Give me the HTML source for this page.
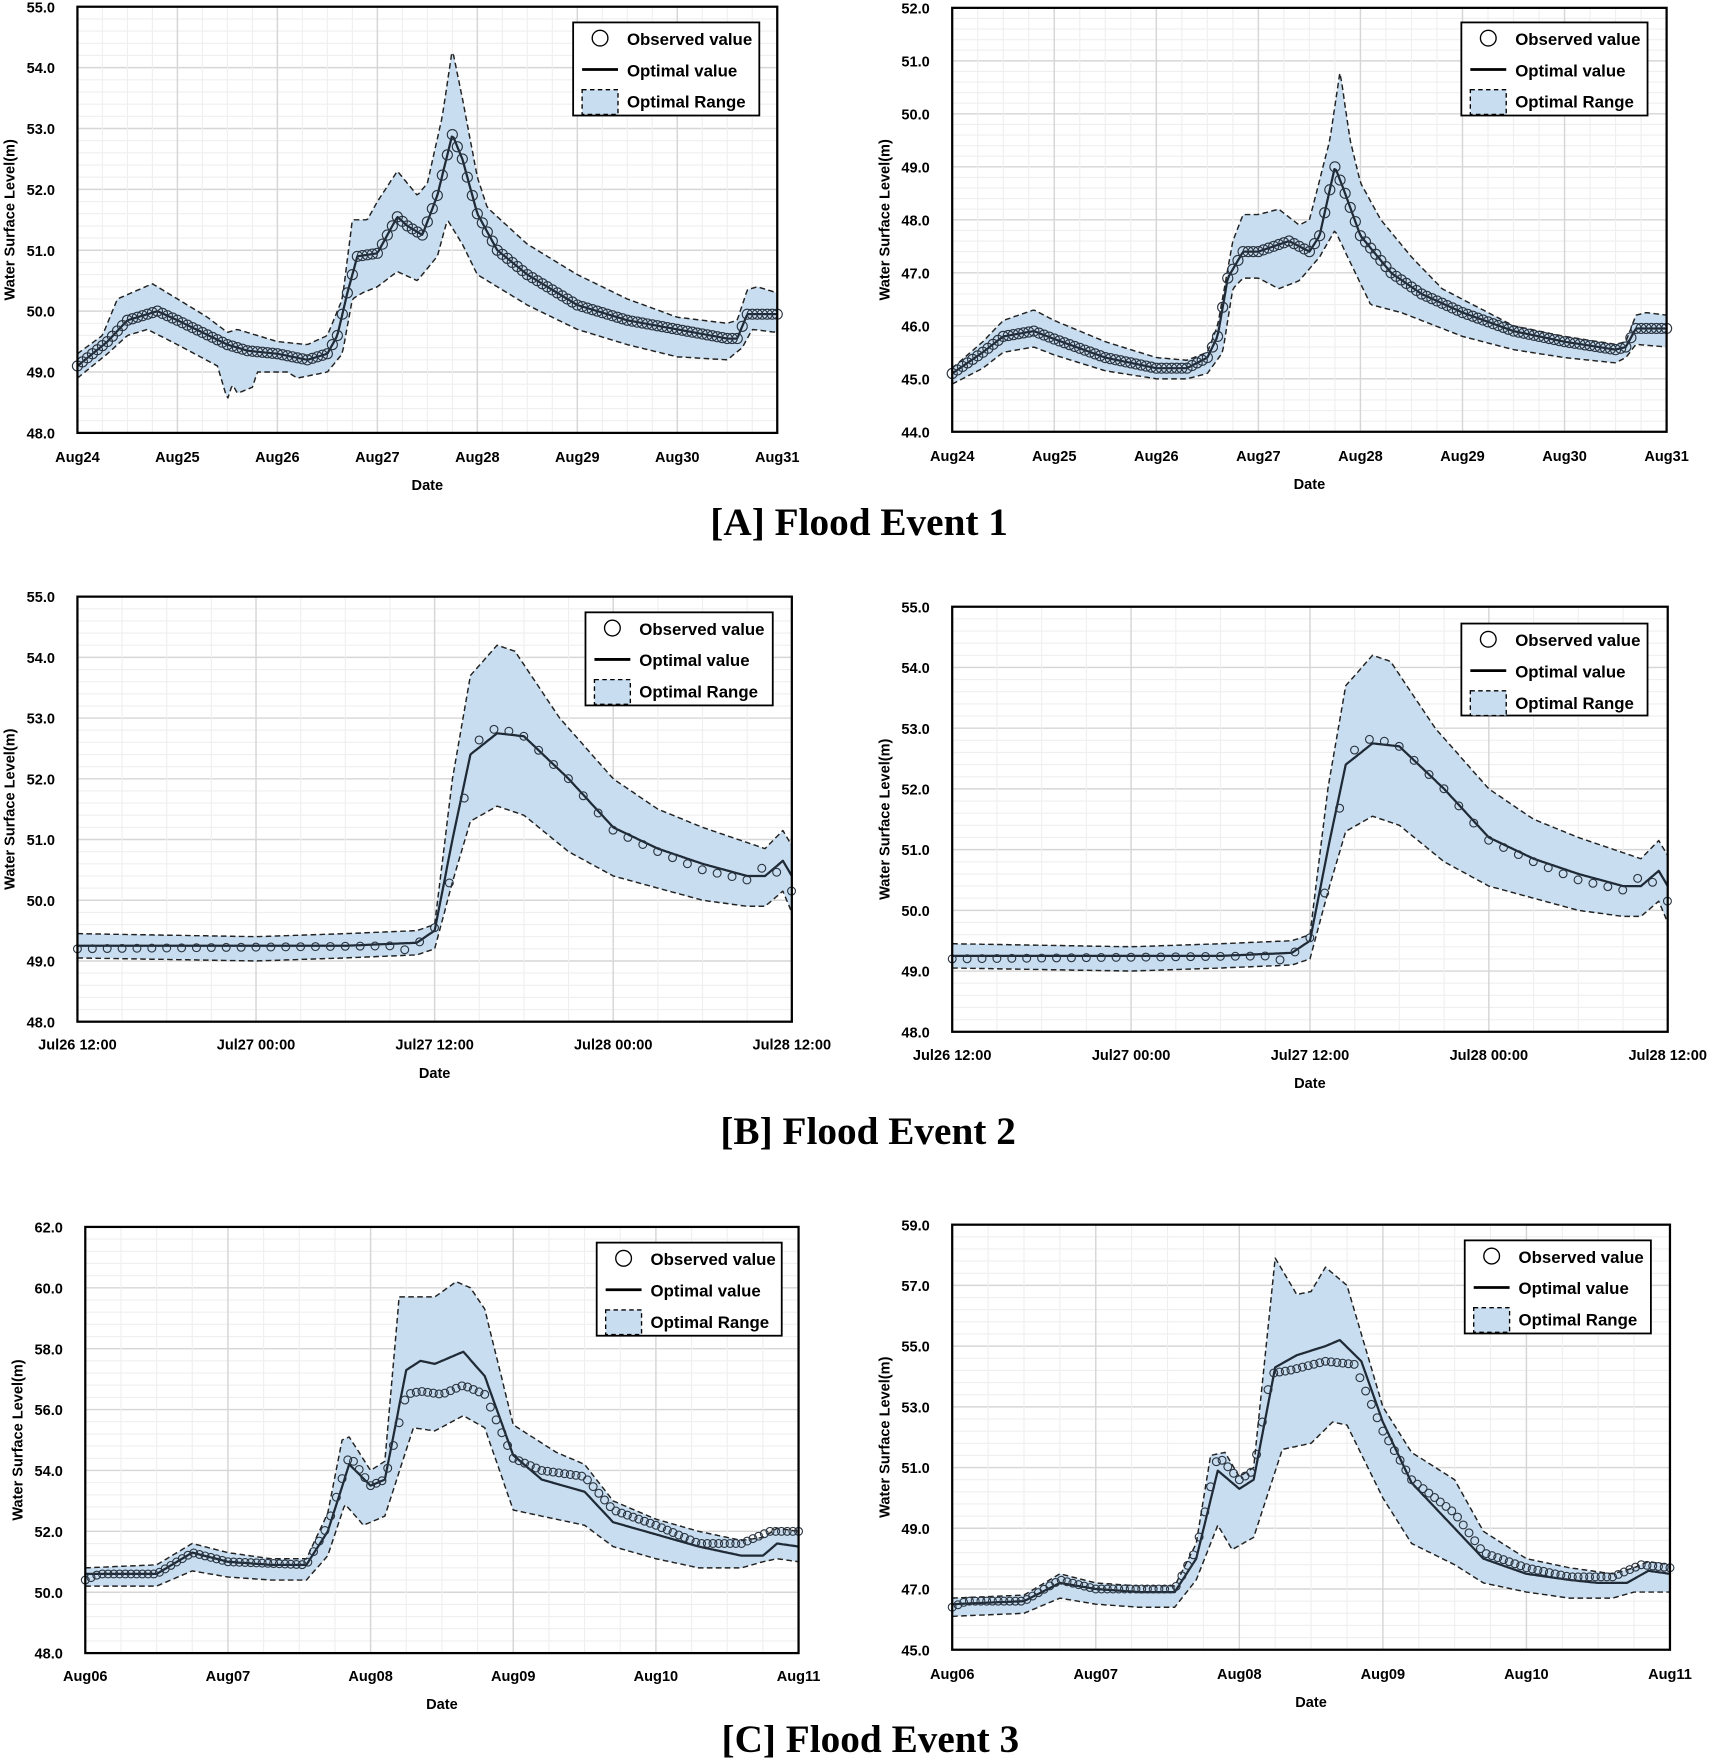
<!DOCTYPE html>
<html><head><meta charset="utf-8"><style>
html,body{margin:0;padding:0;background:#fff}
svg{display:block}
text{font-family:"Liberation Sans","Noto Sans CJK KR",sans-serif}
</style></head><body>
<svg id="s" width="1716" height="1763" viewBox="0 0 1530 1572" xmlns="http://www.w3.org/2000/svg">
<rect width="1530" height="1572" fill="#fff"/>
<text x="766" y="477" text-anchor="middle" style="font-family:'Liberation Serif',serif;font-weight:bold;font-size:35px">[A] Flood Event 1</text>
<text x="774" y="1020" text-anchor="middle" style="font-family:'Liberation Serif',serif;font-weight:bold;font-size:35px">[B] Flood Event 2</text>
<text x="776" y="1562" text-anchor="middle" style="font-family:'Liberation Serif',serif;font-weight:bold;font-size:35px">[C] Flood Event 3</text>
</svg>
<script>
const S=document.getElementById('s');const NS='http://www.w3.org/2000/svg';
function el(t,a,txt){const e=document.createElementNS(NS,t);for(const k in a)e.setAttribute(k,a[k]);if(txt!==undefined)e.textContent=txt;S.appendChild(e);return e;}
function interp(p,x){if(x<=p[0][0])return p[0][1];for(let i=1;i<p.length;i++){if(x<=p[i][0]){const a=p[i-1],b=p[i];return a[1]+(b[1]-a[1])*(x-a[0])/(b[0]-a[0]);}}return p[p.length-1][1];}
function chart(c){
 const{x0,x1,y0,y1,ymin,ymax,ystep,xn,xlabels,labY,dateY,leg}=c;
 const X=v=>x0+(x1-x0)*v/xn, Y=v=>y1-(y1-y0)*(v-ymin)/(ymax-ymin);
 const ny=Math.round((ymax-ymin)/ystep);
 for(let i=0;i<=ny*5;i++){const y=y1-(y1-y0)*i/(ny*5);el('line',{x1:x0,x2:x1,y1:y,y2:y,stroke:i%5?'#efefef':'#d6d6d6','stroke-width':i%5?1:1.3});}
 const xm=c.xminor||4;
 for(let i=0;i<=xn*xm;i++){const x=x0+(x1-x0)*i/(xn*xm);el('line',{x1:x,x2:x,y1:y0,y2:y1,stroke:i%xm?'#efefef':'#d6d6d6','stroke-width':i%xm?1:1.3});}
 const N=400;let up=[],lo=[];
 for(let i=0;i<=N;i++){const v=xn*i/N;up.push([X(v),Y(interp(c.up,v))]);lo.push([X(v),Y(interp(c.lo,v))]);}
 const pu=up.map((p,i)=>(i?'L':'M')+p[0].toFixed(1)+','+p[1].toFixed(1)).join('');
 const pl=lo.map((p,i)=>(i?'L':'M')+p[0].toFixed(1)+','+p[1].toFixed(1)).join('');
 const band=pu+lo.slice().reverse().map(p=>'L'+p[0].toFixed(1)+','+p[1].toFixed(1)).join('')+'Z';
 el('path',{d:band,fill:'#c8def0'});
 el('path',{d:pu,fill:'none',stroke:'#222','stroke-width':1.3,'stroke-dasharray':'5,3','stroke-linejoin':'round'});
 el('path',{d:pl,fill:'none',stroke:'#222','stroke-width':1.3,'stroke-dasharray':'5,3','stroke-linejoin':'round'});
 let po='';for(let i=0;i<=N;i++){const v=xn*i/N;po+=(i?'L':'M')+X(v).toFixed(1)+','+Y(interp(c.opt,v)).toFixed(1);}
 el('path',{d:po,fill:'none',stroke:'#1f2a36','stroke-width':2,'stroke-linejoin':'round'});
 const ob=c.obs||c.opt;const off=c.obsOff||0;
 for(let v=0;v<=xn+1e-6;v+=c.ostep){el('circle',{cx:X(v),cy:Y(interp(ob,v)+off),r:c.r,fill:'none',stroke:'#2a3440','stroke-width':1});}
 el('rect',{x:x0,y:y0,width:x1-x0,height:y1-y0,fill:'none',stroke:'#000','stroke-width':2});
 for(let i=0;i<=ny;i++){const v=ymin+i*ystep;el('text',{x:x0-20,y:Y(v)+5,'text-anchor':'end','font-size':13,'font-weight':'bold'},v.toFixed(1));}
 xlabels.forEach((l,i)=>el('text',{x:X(i),y:labY,'text-anchor':'middle','font-size':13,'font-weight':'bold'},l));
 el('text',{x:(x0+x1)/2,y:dateY,'text-anchor':'middle','font-size':13,'font-weight':'bold'},'Date');
 const cy=(y0+y1)/2;el('text',{x:0,y:0,transform:`translate(${x0-56},${cy}) rotate(-90)`,'text-anchor':'middle','font-size':13,'font-weight':'bold'},'Water Surface Level(m)');
 const[lx,ly,lw,lh]=leg;
 el('rect',{x:lx,y:ly,width:lw,height:lh,fill:'#fff',stroke:'#000','stroke-width':1.6});
 el('circle',{cx:lx+24,cy:ly+14,r:7,fill:'none',stroke:'#000','stroke-width':1.2});
 el('line',{x1:lx+8,x2:lx+40,y1:ly+42,y2:ly+42,stroke:'#000','stroke-width':2.5});
 el('rect',{x:lx+8,y:ly+60,width:32,height:22,fill:'#c8def0',stroke:'#000','stroke-width':1.2,'stroke-dasharray':'4,3'});
 [['Observed value',14],['Optimal value',42],['Optimal Range',70]].forEach(t=>el('text',{x:lx+48,y:ly+t[1]+6,'font-size':15,'font-weight':'bold'},t[0]));
}
const Aopt=[[0,49.1],[0.3,49.5],[0.5,49.85],[0.8,50.0],[1,49.85],[1.5,49.45],[1.7,49.35],[2,49.3],[2.3,49.2],[2.5,49.3],[2.6,49.6],[2.7,50.3],[2.8,50.9],[3,50.95],[3.2,51.55],[3.3,51.4],[3.45,51.25],[3.6,51.9],[3.75,52.9],[3.85,52.5],[4,51.6],[4.2,51.0],[4.5,50.6],[5,50.1],[5.5,49.85],[6,49.7],[6.5,49.55],[6.6,49.55],[6.7,49.95],[7,49.95]];
const days8=['Aug24','Aug25','Aug26','Aug27','Aug28','Aug29','Aug30','Aug31'];
chart({x0:69,x1:693,y0:6,y1:386,ymin:48,ymax:55,ystep:1,xn:7,xlabels:days8,labY:412,dateY:437,leg:[511,20,166,83],ostep:0.05,r:4.5,
opt:Aopt,
up:[[0,49.3],[0.25,49.6],[0.4,50.2],[0.75,50.45],[1,50.2],[1.3,49.9],[1.5,49.65],[1.6,49.7],[2,49.5],[2.3,49.45],[2.5,49.6],[2.65,50.2],[2.75,51.5],[2.9,51.5],[3,51.8],[3.2,52.3],[3.4,51.9],[3.5,52.1],[3.65,53.2],[3.75,54.3],[3.85,53.5],[4,52.2],[4.1,51.7],[4.5,51.1],[5,50.6],[5.5,50.2],[6,49.9],[6.5,49.8],[6.6,49.85],[6.7,50.35],[6.8,50.4],[7,50.3]],
lo:[[0,48.9],[0.3,49.3],[0.5,49.6],[0.7,49.7],[1,49.45],[1.4,49.1],[1.5,48.55],[1.55,48.8],[1.6,48.65],[1.75,48.75],[1.8,49.0],[2.1,49.0],[2.2,48.9],[2.5,49.0],[2.65,49.3],[2.75,50.2],[2.85,50.3],[3,50.4],[3.2,50.65],[3.4,50.5],[3.6,50.9],[3.7,51.5],[3.85,51.1],[4,50.6],[4.2,50.4],[4.5,50.1],[5,49.7],[5.5,49.45],[6,49.25],[6.5,49.2],[6.65,49.4],[6.75,49.7],[7,49.65]]});
chart({x0:849,x1:1486,y0:7,y1:385,ymin:44,ymax:52,ystep:1,xn:7,xlabels:days8,labY:411,dateY:436,leg:[1303,20,166,83],ostep:0.05,r:4.5,
opt:[[0,45.1],[0.3,45.5],[0.5,45.8],[0.8,45.9],[1,45.75],[1.5,45.4],[2,45.2],[2.3,45.2],[2.5,45.4],[2.6,45.8],[2.7,46.9],[2.85,47.4],[3,47.4],[3.3,47.6],[3.5,47.4],[3.6,47.7],[3.75,49.0],[3.85,48.5],[4,47.7],[4.3,47.0],[4.6,46.6],[5,46.25],[5.5,45.9],[6,45.7],[6.5,45.55],[6.6,45.6],[6.7,45.95],[7,45.95]],
up:[[0,45.2],[0.3,45.7],[0.5,46.1],[0.8,46.3],[1,46.1],[1.5,45.7],[2,45.4],[2.3,45.35],[2.5,45.5],[2.6,46.0],[2.75,47.6],[2.85,48.1],[3,48.1],[3.2,48.2],[3.4,47.9],[3.5,48.0],[3.7,49.5],[3.8,50.8],[3.9,49.5],[4,48.7],[4.2,48.0],[4.5,47.3],[4.8,46.7],[5,46.5],[5.5,46.0],[6,45.8],[6.5,45.65],[6.6,45.7],[6.7,46.2],[6.8,46.25],[7,46.2]],
lo:[[0,44.9],[0.3,45.2],[0.5,45.5],[0.8,45.6],[1,45.45],[1.5,45.15],[2,45.0],[2.3,45.0],[2.5,45.1],[2.65,45.5],[2.75,46.7],[2.85,46.9],[3,46.9],[3.2,46.7],[3.4,46.85],[3.6,47.3],[3.75,47.8],[3.9,47.2],[4.1,46.4],[4.4,46.25],[5,45.8],[5.5,45.55],[6,45.4],[6.5,45.3],[6.6,45.4],[6.7,45.65],[7,45.6]]});
const Bopt=[[0,49.25],[1,49.25],[1.5,49.25],[1.9,49.3],[2.0,49.5],[2.1,51.0],[2.2,52.4],[2.35,52.75],[2.5,52.7],[2.75,52.0],[3,51.2],[3.25,50.85],[3.5,50.6],[3.75,50.4],[3.85,50.4],[3.95,50.65],[4,50.4]];
const Bup=[[0,49.45],[1,49.4],[1.5,49.45],[1.9,49.5],[2.0,49.6],[2.1,52.0],[2.2,53.7],[2.35,54.2],[2.45,54.1],[2.7,53.0],[3,52.0],[3.25,51.5],[3.5,51.2],[3.75,50.95],[3.85,50.85],[3.95,51.15],[4,50.9]];
const Blo=[[0,49.05],[1,49.0],[1.5,49.05],[1.9,49.1],[2.0,49.2],[2.1,50.3],[2.2,51.3],[2.35,51.55],[2.5,51.4],[2.75,50.8],[3,50.4],[3.25,50.2],[3.5,50.0],[3.75,49.9],[3.85,49.9],[3.95,50.15],[4,49.8]];
const Bobs=[[0,49.2],[1.8,49.25],[1.85,49.15],[1.95,49.4],[2.05,49.7],[2.15,51.5],[2.25,52.65],[2.35,52.85],[2.5,52.7],[2.75,52.0],[3,51.15],[3.25,50.8],[3.5,50.5],[3.8,50.3],[3.87,50.8],[3.95,50.2],[4,50.15]];
const hrs=['Jul26  12:00','Jul27  00:00','Jul27  12:00','Jul28  00:00','Jul28  12:00'];
chart({x0:69,x1:706,y0:532,y1:911,ymin:48,ymax:55,ystep:1,xn:4,xminor:4,xlabels:hrs,labY:936,dateY:961,leg:[522,546,167,83],ostep:0.0833,r:3.5,opt:Bopt,up:Bup,lo:Blo,obs:Bobs});
chart({x0:849,x1:1487,y0:541,y1:920,ymin:48,ymax:55,ystep:1,xn:4,xminor:4,xlabels:hrs,labY:945,dateY:970,leg:[1303,556,166,82],ostep:0.0833,r:3.5,opt:Bopt,up:Bup,lo:Blo,obs:Bobs});
const days6=['Aug06','Aug07','Aug08','Aug09','Aug10','Aug11'];
chart({x0:76,x1:712,y0:1094,y1:1474,ymin:48,ymax:62,ystep:2,xn:5,xminor:4,xlabels:days6,labY:1499,dateY:1524,leg:[532,1108,165,83],ostep:0.04,r:3.5,
opt:[[0,50.6],[0.5,50.6],[0.75,51.3],[1,51.0],[1.3,50.9],[1.55,50.9],[1.7,52.0],[1.85,54.2],[2,53.5],[2.1,53.7],[2.25,57.3],[2.35,57.6],[2.45,57.5],[2.65,57.9],[2.8,57.1],[3,54.5],[3.2,53.7],[3.5,53.3],[3.7,52.3],[4,51.9],[4.3,51.5],[4.6,51.2],[4.75,51.2],[4.85,51.6],[5,51.5]],
up:[[0,50.8],[0.5,50.9],[0.75,51.6],[1,51.3],[1.3,51.1],[1.55,51.1],[1.7,52.6],[1.8,55.0],[1.85,55.1],[2,54.0],[2.1,54.3],[2.2,59.7],[2.45,59.7],[2.6,60.2],[2.7,60.0],[2.8,59.3],[3,55.5],[3.3,54.6],[3.5,54.2],[3.7,53.0],[4,52.4],[4.3,52.0],[4.6,51.7],[4.75,51.8],[4.85,52.1],[5,52.0]],
lo:[[0,50.2],[0.5,50.2],[0.75,50.7],[1,50.5],[1.3,50.4],[1.55,50.4],[1.7,51.2],[1.82,52.9],[1.95,52.2],[2.1,52.5],[2.3,55.4],[2.45,55.3],[2.65,55.8],[2.8,55.4],[3,52.7],[3.3,52.4],[3.5,52.2],[3.7,51.5],[4,51.1],[4.3,50.8],[4.6,50.8],[4.75,51.0],[4.85,51.1],[5,51.0]],
obs:[[0,50.4],[0.1,50.6],[0.5,50.6],[0.75,51.3],[1,51.0],[1.55,50.9],[1.7,52.2],[1.85,54.5],[2,53.5],[2.1,53.7],[2.25,56.5],[2.35,56.6],[2.5,56.5],[2.65,56.8],[2.8,56.5],[3,54.4],[3.2,54.0],[3.5,53.8],[3.7,52.7],[4,52.2],[4.3,51.6],[4.6,51.6],[4.8,52.0],[5,52.0]]});
chart({x0:849,x1:1489,y0:1092,y1:1471,ymin:45,ymax:59,ystep:2,xn:5,xminor:4,xlabels:days6,labY:1497,dateY:1522,leg:[1306,1106,166,83],ostep:0.04,r:3.5,
opt:[[0,46.5],[0.5,46.6],[0.75,47.2],[1,47.0],[1.3,46.9],[1.55,46.9],[1.7,48.0],[1.85,50.9],[2,50.3],[2.1,50.6],[2.25,54.3],[2.4,54.7],[2.6,55.0],[2.7,55.2],[2.85,54.5],[3,52.5],[3.2,50.5],[3.5,49.0],[3.7,48.0],[4,47.5],[4.3,47.3],[4.5,47.2],[4.7,47.2],[4.85,47.6],[5,47.5]],
up:[[0,46.7],[0.5,46.8],[0.75,47.5],[1,47.2],[1.3,47.1],[1.55,47.1],[1.7,48.5],[1.8,51.4],[1.9,51.5],[2,50.7],[2.1,51.0],[2.25,57.9],[2.4,56.7],[2.5,56.8],[2.6,57.6],[2.75,57.0],[3,53.0],[3.2,51.5],[3.5,50.6],[3.7,48.9],[4,48.0],[4.3,47.7],[4.6,47.5],[4.75,47.7],[4.85,47.9],[5,47.8]],
lo:[[0,46.1],[0.5,46.2],[0.75,46.7],[1,46.5],[1.3,46.4],[1.55,46.4],[1.7,47.3],[1.85,49.1],[1.95,48.3],[2.1,48.7],[2.3,51.6],[2.5,51.8],[2.65,52.5],[2.75,52.4],[3,50.0],[3.2,48.5],[3.5,47.8],[3.7,47.2],[4,46.9],[4.3,46.7],[4.6,46.7],[4.75,46.9],[4.85,46.9],[5,46.9]],
obs:[[0,46.4],[0.1,46.6],[0.5,46.6],[0.75,47.3],[1,47.0],[1.55,47.0],[1.7,48.3],[1.85,51.4],[2,50.6],[2.1,50.9],[2.22,54.1],[2.35,54.2],[2.6,54.5],[2.8,54.4],[3,52.2],[3.2,50.6],[3.5,49.5],[3.7,48.2],[4,47.7],[4.3,47.4],[4.6,47.4],[4.8,47.8],[5,47.7]]});
</script>
</body></html>
